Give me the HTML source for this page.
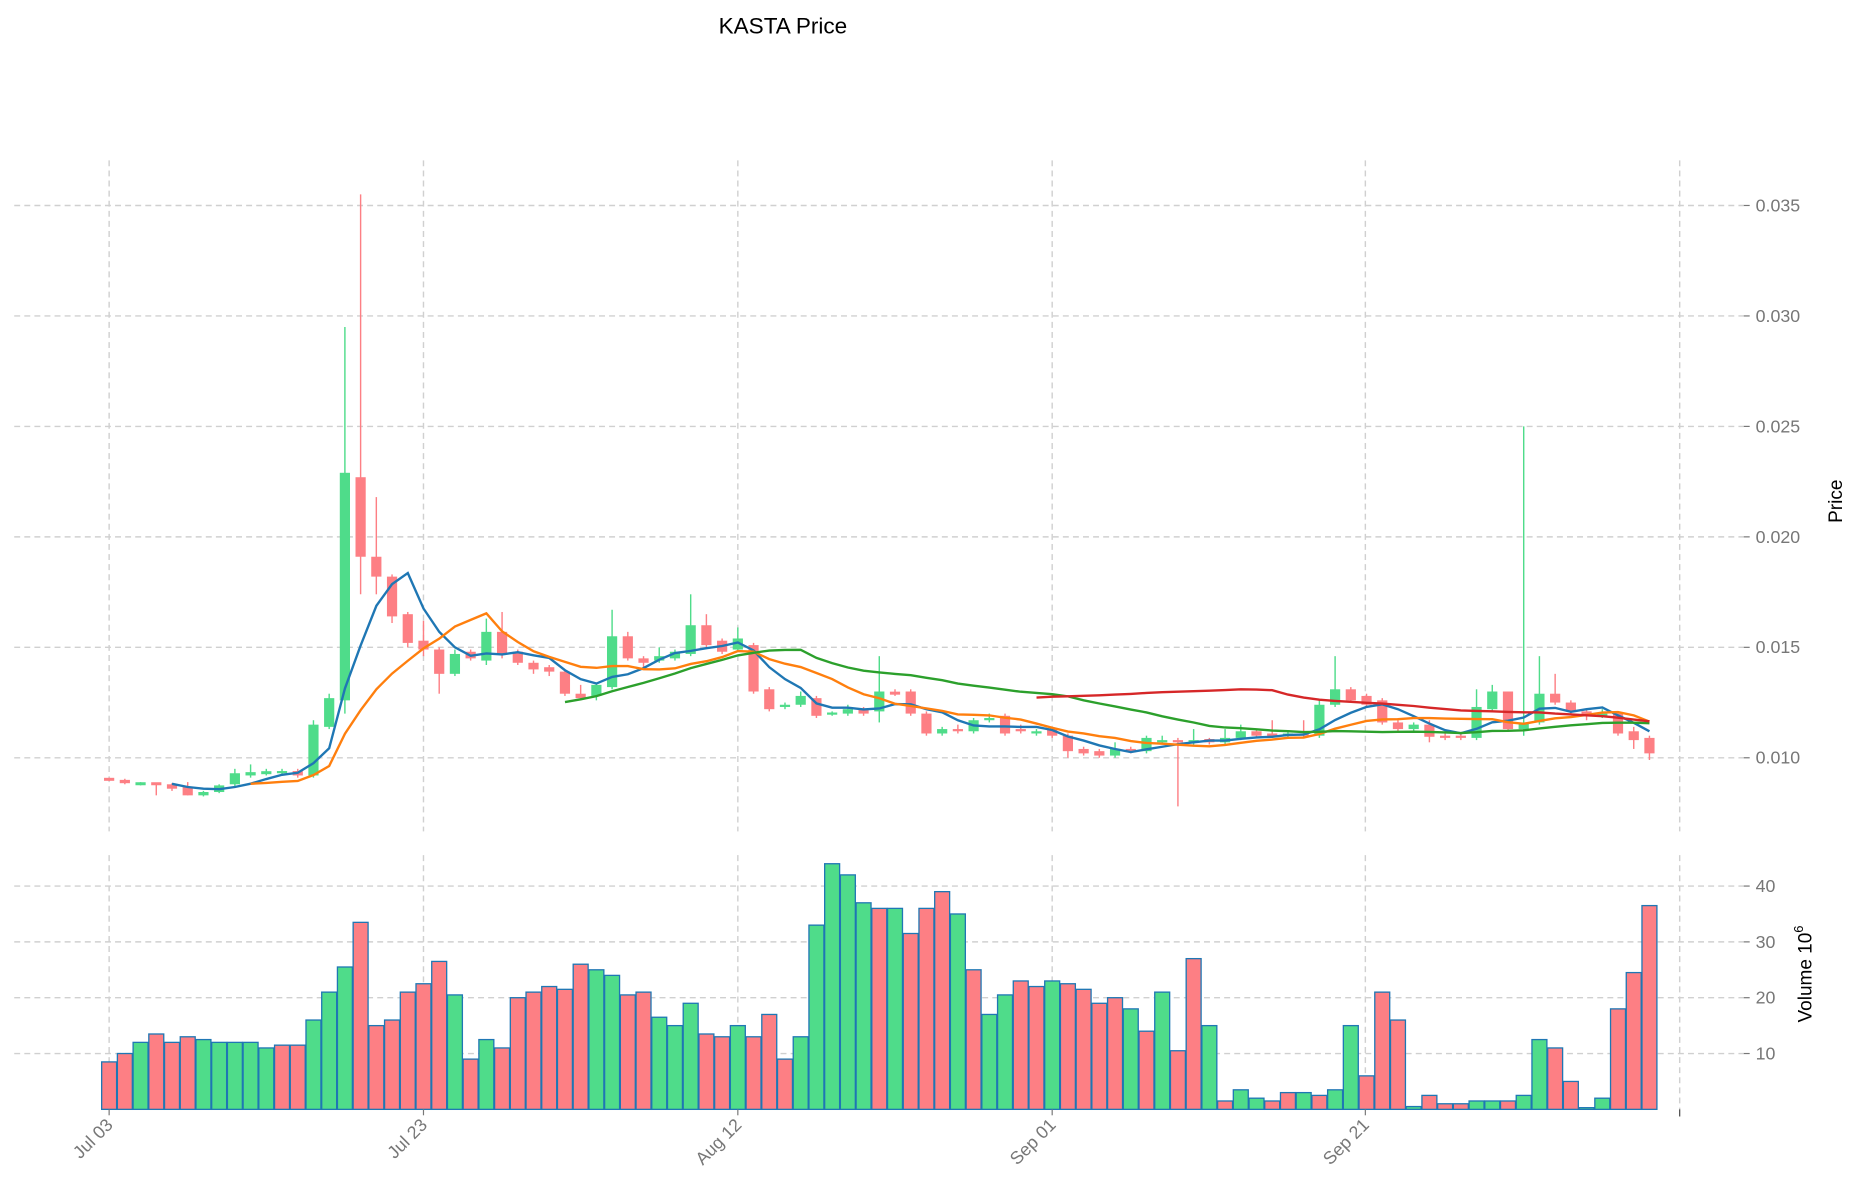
<!DOCTYPE html>
<html><head><meta charset="utf-8"><style>
html,body{margin:0;padding:0;background:#fff;}
svg{display:block;font-family:"Liberation Sans","DejaVu Sans",sans-serif;}
</style></head><body>
<svg id="s" width="1860" height="1202" viewBox="0 0 1568 1012" preserveAspectRatio="none" xmlns="http://www.w3.org/2000/svg">
<rect width="1568" height="1012" fill="#fff"/>
<g id="grid" stroke="#d0d0d0" stroke-width="1.2" stroke-dasharray="5,3.5" fill="none"></g>
<g id="vol"></g>
<g id="cand"></g>
<g id="ma" fill="none" stroke-width="2"></g>
<g id="txt" fill="#777" font-size="15"></g>
<text x="660" y="28" font-size="19" text-anchor="middle" fill="#000">KASTA Price</text>
<text transform="translate(1553,422) rotate(-90)" font-size="16" text-anchor="middle" fill="#000">Price</text>
<text transform="translate(1527,820) rotate(-90)" font-size="16" text-anchor="middle" fill="#000">Volume  10<tspan dy="-7" font-size="11">6</tspan></text>
</svg>
<script>
var C=[[9.05,9.0,9.1,8.95],[9.0,8.85,9.05,8.8],[8.8,8.85,8.9,8.75],[8.85,8.8,8.85,8.3],[8.8,8.6,8.85,8.5],[8.7,8.3,8.9,8.3],[8.3,8.45,8.5,8.25],[8.45,8.75,8.8,8.4],[8.8,9.3,9.5,8.7],[9.2,9.35,9.7,9.1],[9.3,9.35,9.5,9.2],[9.3,9.4,9.5,9.2],[9.4,9.2,9.5,9.1],[9.2,11.5,11.7,9.1],[11.4,12.7,12.9,11.3],[12.6,22.9,29.5,12.0],[22.7,19.1,35.5,17.4],[19.1,18.2,21.8,17.4],[18.2,16.4,18.3,16.1],[16.5,15.2,16.6,15.0],[15.3,14.9,16.2,14.6],[14.9,13.8,15.0,12.9],[13.8,14.7,14.9,13.7],[14.8,14.5,14.9,14.4],[14.4,15.7,16.3,14.2],[15.7,14.7,16.6,14.5],[14.8,14.3,14.9,14.2],[14.3,14.0,14.4,13.8],[14.1,13.9,14.2,13.7],[13.9,12.9,14.0,12.8],[12.9,12.7,13.3,12.6],[12.8,13.3,13.4,12.6],[13.2,15.5,16.7,13.1],[15.5,14.5,15.7,14.4],[14.5,14.3,14.6,14.1],[14.4,14.6,15.0,14.3],[14.5,14.8,14.9,14.4],[14.7,16.0,17.4,14.6],[16.0,15.1,16.5,15.0],[15.3,14.8,15.4,14.7],[14.9,15.4,15.9,14.8],[15.1,13.0,15.2,12.9],[13.1,12.2,13.2,12.1],[12.3,12.4,12.5,12.2],[12.4,12.8,13.0,12.3],[12.7,11.9,12.8,11.8],[11.95,12.05,12.1,11.9],[12.0,12.2,12.4,11.9],[12.2,12.0,12.3,11.9],[12.1,13.0,14.6,11.6],[12.95,12.9,13.1,12.8],[13.0,12.0,13.1,11.9],[12.0,11.1,12.1,11.0],[11.1,11.3,11.4,11.0],[11.3,11.2,11.5,11.1],[11.2,11.7,11.8,11.1],[11.7,11.8,12.0,11.6],[11.9,11.1,12.0,11.0],[11.3,11.2,11.5,11.1],[11.1,11.2,11.3,11.0],[11.3,11.0,11.4,10.9],[11.0,10.3,11.1,10.0],[10.4,10.2,10.5,10.1],[10.3,10.1,10.4,10.0],[10.1,10.4,10.7,10.0],[10.4,10.3,10.5,10.2],[10.3,10.9,11.0,10.2],[10.7,10.8,11.0,10.6],[10.8,10.7,10.9,7.8],[10.7,10.8,11.3,10.6],[10.85,10.7,10.9,10.6],[10.7,10.9,11.3,10.6],[10.9,11.2,11.5,10.8],[11.2,11.0,11.3,10.9],[11.1,10.95,11.7,10.9],[11.0,11.1,11.2,10.9],[11.1,11.0,11.7,10.9],[11.0,12.4,12.6,10.9],[12.4,13.1,14.6,12.3],[13.1,12.6,13.2,12.5],[12.8,12.4,12.9,12.3],[12.6,11.6,12.7,11.5],[11.6,11.3,11.7,11.2],[11.3,11.5,11.6,11.2],[11.5,10.95,11.7,10.7],[11.0,10.9,11.1,10.8],[11.0,10.9,11.1,10.8],[10.9,12.3,13.1,10.8],[12.2,13.0,13.3,12.1],[13.0,11.3,13.0,11.2],[11.3,11.6,25.0,11.0],[11.6,12.9,14.6,11.5],[12.9,12.5,13.8,12.4],[12.5,12.1,12.6,12.0],[12.1,11.9,12.2,11.7],[11.9,12.0,12.2,11.8],[12.0,11.1,12.1,11.0],[11.2,10.8,11.4,10.4],[10.9,10.2,11.0,9.9]];
var V=[[8.5,0],[10,0],[12,1],[13.5,0],[12,0],[13,0],[12.5,1],[12,1],[12,1],[12,1],[11,1],[11.5,0],[11.5,0],[16,1],[21,1],[25.5,1],[33.5,0],[15,0],[16,0],[21,0],[22.5,0],[26.5,0],[20.5,1],[9,0],[12.5,1],[11,0],[20,0],[21,0],[22,0],[21.5,0],[26,0],[25,1],[24,1],[20.5,0],[21,0],[16.5,1],[15,1],[19,1],[13.5,0],[13,0],[15,1],[13,0],[17,0],[9,0],[13,1],[33,1],[44,1],[42,1],[37,1],[36,0],[36,1],[31.5,0],[36,0],[39,0],[35,1],[25,0],[17,1],[20.5,1],[23,0],[22,0],[23,1],[22.5,0],[21.5,0],[19,0],[20,0],[18,1],[14,0],[21,1],[10.5,0],[27,0],[15,1],[1.5,0],[3.5,1],[2,1],[1.5,0],[3,0],[3,1],[2.5,0],[3.5,1],[15,1],[6,0],[21,0],[16,0],[0.5,1],[2.5,0],[1,0],[1,0],[1.5,1],[1.5,1],[1.5,0],[2.5,1],[12.5,1],[11,0],[5,0],[0.3,1],[2,1],[18,0],[24.5,0],[36.5,0]];
var NS="http://www.w3.org/2000/svg";
function el(p,t,a,txt){var e=document.createElementNS(NS,t);for(var k in a)e.setAttribute(k,a[k]);if(txt!=null)e.textContent=txt;document.getElementById(p).appendChild(e);return e;}
function X(i){return 92+13.25*i;}
function PY(p){return 638-(p-10)*18.6;}
function VY(v){return 934-v*4.7;}
var G="#4fdc8a",R="#fd7f84";
[0.035,0.030,0.025,0.020,0.015,0.010].forEach(function(p){var y=PY(p*1000);el("grid","line",{x1:12,x2:1470,y1:y,y2:y});el("txt","text",{x:1480,y:y+5},p.toFixed(3));el("txt","line",{x1:1470,x2:1475,y1:y,y2:y,stroke:"#777"});});
[40,30,20,10].forEach(function(v){var y=VY(v);el("grid","line",{x1:12,x2:1470,y1:y,y2:y});el("txt","text",{x:1480,y:y+5},String(v));el("txt","line",{x1:1470,x2:1475,y1:y,y2:y,stroke:"#777"});});
[92,357,622,887,1151,1416].forEach(function(x){el("grid","line",{x1:x,x2:x,y1:135,y2:700});el("grid","line",{x1:x,x2:x,y1:720,y2:934});});
el("txt","line",{x1:1416,x2:1416,y1:934,y2:940,stroke:"#444"});
["Jul 03","Jul 23","Aug 12","Sep 01","Sep 21"].forEach(function(s,k){var x=[92,357,622,887,1151][k];el("txt","text",{transform:"translate("+(x+4)+",948) rotate(-45)","text-anchor":"end"},s);el("txt","line",{x1:x,x2:x,y1:934,y2:939,stroke:"#777"});});
V.forEach(function(v,i){var y=VY(v[0]);el("vol","rect",{x:X(i)-6.3,y:y,width:12.6,height:934-y,fill:v[1]?G:R,stroke:"#1f77b4","stroke-width":1.1});});
C.forEach(function(c,i){var col=c[1]>=c[0]?G:R,x=X(i);el("cand","line",{x1:x,x2:x,y1:PY(c[2]),y2:PY(c[3]),stroke:col,"stroke-width":1.2});var t=PY(Math.max(c[0],c[1])),b=PY(Math.min(c[0],c[1]));if(b-t<1.5){t-=0.8;b+=0.8;}el("cand","rect",{x:x-4.3,y:t,width:8.6,height:b-t,fill:col});});
function ma(n,col){var pts=[];for(var i=n-1;i<C.length;i++){var s=0;for(var j=i-n+1;j<=i;j++)s+=C[j][1];pts.push(X(i).toFixed(1)+","+PY(s/n).toFixed(1));}el("ma","polyline",{points:pts.join(" "),stroke:col});}
ma(5,"#1f77b4");ma(10,"#ff7f0e");ma(30,"#2ca02c");ma(60,"#d62728");
</script>
</body></html>
